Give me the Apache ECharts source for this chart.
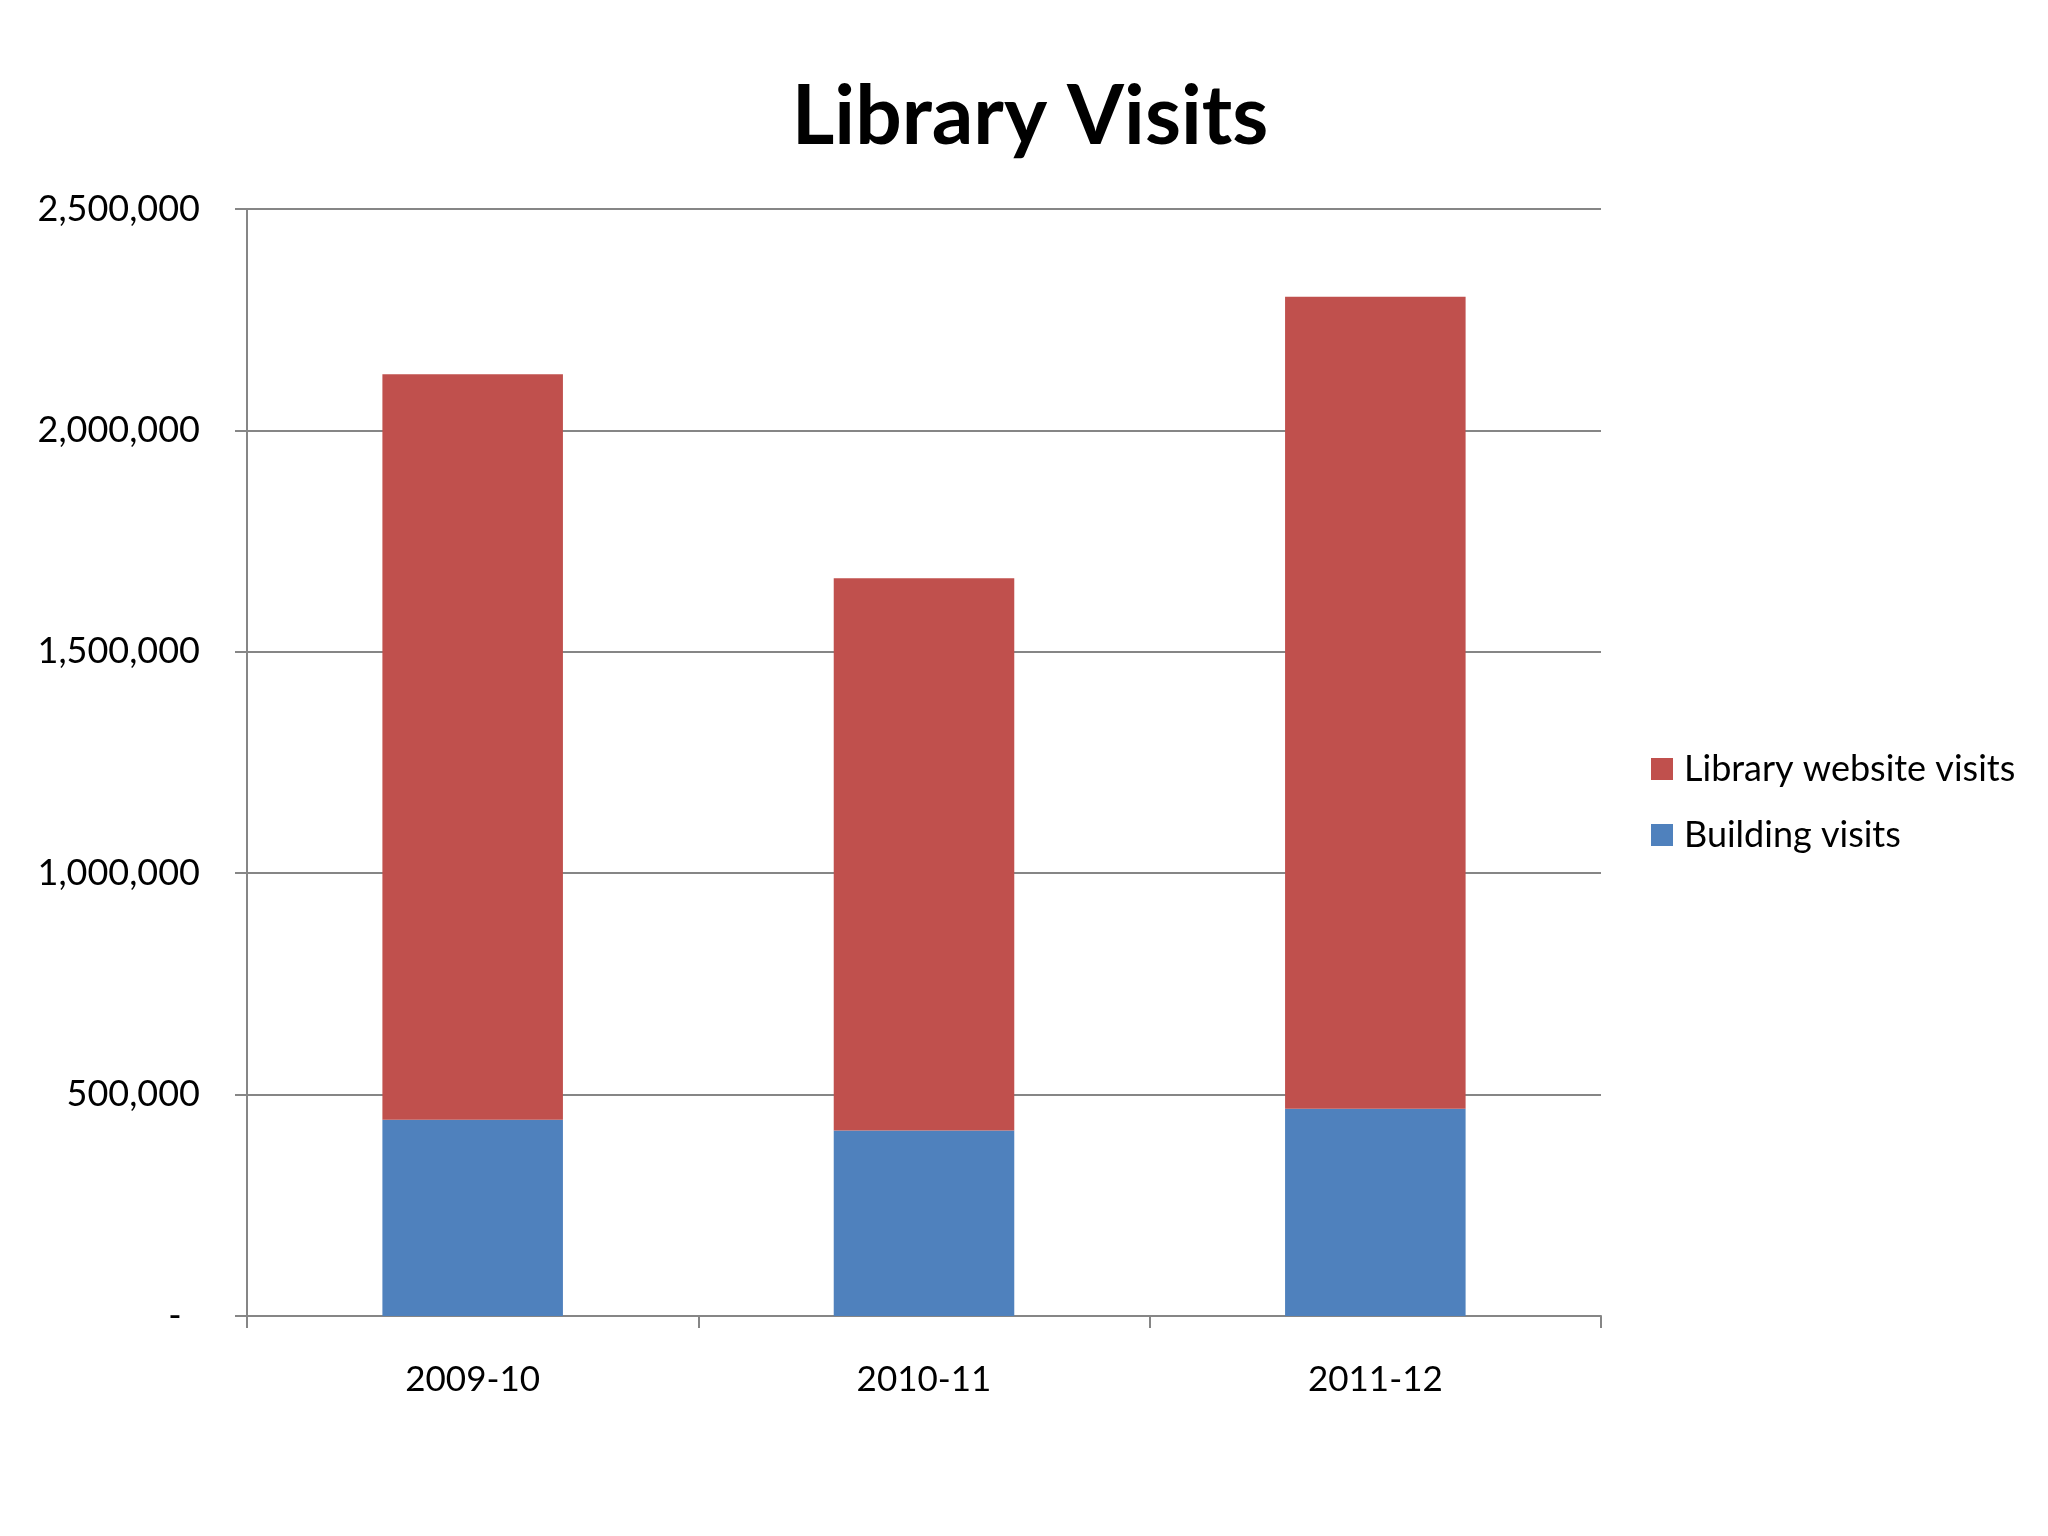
<!DOCTYPE html>
<html>
<head>
<meta charset="utf-8">
<style>
html,body{margin:0;padding:0;background:#fff;}
#chart{width:2048px;height:1536px;}
</style>
<script src="https://cdn.jsdelivr.net/npm/echarts@6/dist/echarts.min.js"></script>
</head>
<body>
<div id="chart"></div>
<script>
const categories = ['2009-10', '2010-11', '2011-12'];
const buildingVisits = [443000, 419000, 468000];
const websiteVisits = [1684000, 1247000, 1834000];
const yTicks = [0, 500000, 1000000, 1500000, 2000000, 2500000];

const FONT = 'Lato';
const chart = echarts.init(document.getElementById('chart'));
chart.setOption({
  backgroundColor: '#ffffff',
  animation: false,
  title: {
    text: 'Library Visits',
    left: 1025,
    textAlign: 'center',
    top: 72,
    textStyle: { fontFamily: FONT, fontWeight: 'bold', fontSize: 82, color: '#000' }
  },
  legend: {
    orient: 'vertical',
    left: 1651,
    top: 751,
    itemWidth: 22,
    itemHeight: 22,
    itemGap: 30,
    padding: 0,
    icon: 'rect',
    data: ['Library website visits', 'Building visits'],
    textStyle: { fontFamily: FONT, fontSize: 36, color: '#000', padding: [0, 0, 0, 6] }
  },
  grid: { left: 247, right: 447, top: 209, bottom: 220, containLabel: false },
  xAxis: {
    type: 'category',
    data: categories,
    boundaryGap: true,
    axisLine: { show: true, lineStyle: { color: '#868686', width: 2 } },
    axisTick: { show: true, length: 12, lineStyle: { color: '#868686', width: 2 } },
    axisLabel: { fontFamily: FONT, fontSize: 35, color: '#000', margin: 46 },
    splitLine: { show: false }
  },
  yAxis: {
    type: 'value',
    min: yTicks[0],
    max: yTicks[yTicks.length - 1],
    interval: 500000,
    axisLine: { show: true, lineStyle: { color: '#868686', width: 2 } },
    axisTick: { show: true, length: 12, lineStyle: { color: '#868686', width: 2 } },
    splitLine: { show: true, lineStyle: { color: '#868686', width: 2 } },
    axisLabel: {
      fontFamily: FONT, fontSize: 36, color: '#000', margin: 47,
      formatter: function (v) { return v === 0 ? '-  ' : v.toLocaleString('en-US'); }
    }
  },
  series: [
    {
      name: 'Building visits',
      type: 'bar',
      stack: 'total',
      barWidth: '40%',
      data: buildingVisits,
      itemStyle: { color: '#4F81BD' }
    },
    {
      name: 'Library website visits',
      type: 'bar',
      stack: 'total',
      barWidth: '40%',
      data: websiteVisits,
      itemStyle: { color: '#C0504D' }
    }
  ]
});
</script>
</body>
</html>
